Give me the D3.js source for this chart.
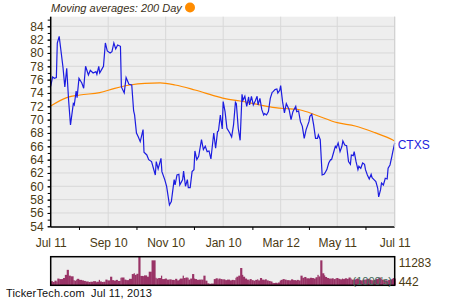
<!DOCTYPE html>
<html>
<head>
<meta charset="utf-8">
<script src="https://cdn.jsdelivr.net/npm/d3@7"></script>
<style>
  body { margin: 0; background: #fff; }
  svg { display: block; font-family: "Liberation Sans", Arial, sans-serif; }
</style>
</head>
<body>
<div id="chart"></div>
<script>
// price series: day offsets from Jul 11 2012, closing price
const days = [
  0,2,4,6,7,9,13,15,17,19,
  21,24,25,27,28,30,33,35,37,40,
  42,45,48,49,51,52,54,56,58,60,
  63,65,67,69,71,74,75,78,80,83,
  86,88,89,91,93,95,98,99,102,104,
  107,111,112,114,117,118,121,123,126,128,
  131,132,134,136,137,140,141,143,145,146,
  148,150,152,153,155,157,160,162,164,166,
  168,170,173,175,177,178,180,182,183,185,
  187,190,192,194,196,197,199,201,203,204,
  206,208,210,211,213,215,217,219,220,222,
  224,226,227,229,231,233,235,236,238,240,
  241,243,244,246,248,250,253,255,257,260,
  261,263,265,267,269,271,274,275,277,279,
  281,283,284,286,288,290,291,293,295,297,
  298,300,302,303,305,307,309,310,312,314,
  316,318,319,321,322,324,326,327,329,331,
  333,334,336,338,340,341,343,345,347,348,
  350,351,353,355,357,358,360,362,363,365
];
const price = [
  75.0,76.4,76.2,76.3,81.5,82.5,77.9,74.9,77.7,72.9,
  69.2,72.4,72.2,74.3,73.3,76.2,75.5,74.7,78.0,76.7,
  77.4,77.0,77.2,76.8,78.0,77.0,77.5,78.0,81.5,80.3,
  80.0,80.2,81.5,80.6,81.2,81.0,74.9,74.0,76.3,75.3,
  75.2,71.3,70.7,68.0,67.4,66.7,68.5,65.1,64.7,64.0,
  63.7,61.7,63.7,62.6,64.2,62.2,61.0,60.0,57.2,57.7,
  61.0,60.2,61.7,61.8,60.2,61.0,62.3,60.0,61.0,59.8,
  59.8,62.2,62.5,65.3,64.0,64.5,67.0,65.5,66.0,65.2,
  65.3,64.1,68.0,65.7,68.2,68.3,70.7,68.6,72.7,71.2,
  68.7,68.0,67.4,69.2,72.6,72.4,68.7,66.9,73.8,72.9,
  73.5,72.0,73.4,72.2,73.5,72.2,72.8,73.5,72.2,73.2,
  71.5,70.7,70.9,70.7,71.2,73.2,74.1,74.2,74.5,74.6,
  74.0,74.4,75.1,72.7,71.0,72.4,71.5,70.0,71.2,72.0,
  71.2,71.3,69.7,69.0,67.2,68.5,69.7,70.5,70.8,69.2,
  67.2,67.2,67.7,67.0,61.7,61.8,62.0,62.5,63.5,64.0,
  64.0,65.0,66.0,65.8,66.5,65.2,66.0,66.8,66.2,66.1,
  63.7,63.3,64.7,64.6,65.2,63.7,62.5,63.0,62.7,63.5,
  63.3,62.5,61.7,61.1,61.8,61.3,61.0,60.7,59.7,58.4,
  59.5,60.5,60.2,61.2,61.1,62.7,63.2,64.5,65.2,66.5
];
// volume in 1000's, same days
const volume = [
  2000,1700,2200,1800,3000,2800,3200,4400,6300,4100,
  3850,2400,2200,2600,2900,2500,2300,2100,1900,1700,
  1800,2000,1600,1800,2500,1900,1700,1800,2600,2300,
  3700,2400,2200,2500,2100,3300,3400,2600,2400,2900,
  4700,5000,4400,4800,11283,4000,3900,4200,3700,5600,
  9900,3300,3000,3200,4100,2800,3000,2600,2700,2500,
  2400,2900,2300,2600,3000,4100,3200,3400,3300,2600,
  3000,4700,3000,2800,2500,2600,2600,4100,2200,1200,
  1000,1100,2800,3100,2600,3000,2800,2600,2700,2400,
  2600,2300,2500,2400,3300,3700,4100,7000,4400,3700,
  3000,2600,2300,2800,2400,2200,2500,2700,2300,3200,
  2600,2400,2700,2300,2100,1900,1400,1300,1400,1200,
  1500,2200,2500,2800,2600,2400,2300,2700,2400,2200,
  2500,2300,4100,3300,3600,3100,3000,3300,3200,3000,
  3500,4400,3800,9900,5000,4200,3600,3200,3000,2900,
  3100,2800,3000,3200,2900,2700,3000,2800,3100,2900,
  3400,3000,2600,2500,2700,2900,2800,2400,2300,2600,
  2500,2700,2900,2600,2400,2300,2500,2800,3000,3400,
  2900,2600,2400,2300,2100,2500,2700,2900,3200,3000
];
// 200 day moving average
const maDays = [0,17,31,52,68,84,100,116,132,153,177,185,201,222,238,254,265,281,304,323,344,363,365];
const ma = [72.05,73.3,73.7,74.05,74.7,75.2,75.45,75.5,75.2,74.45,73.45,73.15,72.8,72.2,71.8,71.6,71.45,70.7,69.55,69.05,68.05,66.95,66.8];

const xLabelDays = [0, 61, 122, 183, 244, 304, 365];
const xLabels = ["Jul 11", "Sep 10", "Nov 10", "Jan 10", "Mar 12", "May 11", "Jul 11"];
const xMinorDays = [30, 91, 152, 214, 274, 334];
const yLabels = [54,56,58,60,62,64,66,68,70,72,74,76,78,80,82,84];
const volLabels = [442, 11283];

const start = new Date(2012, 6, 11);
const toDate = d => d3.timeDay.offset(start, d);

const svg = d3.select("#chart").append("svg")
    .attr("width", 450)
    .attr("height", 300);

const pLeft = 50.7, pRight = 394.7, pTop = 16.7, pBottom = 227;
const textCol = "#4a3a12";

const x = d3.scaleTime()
    .domain([start, toDate(365)])
    .range([pLeft, pRight]);
const y = d3.scaleLinear()
    .domain([54, 84])
    .range([226.3, 26.3]);

// plot background
svg.append("rect")
    .attr("x", pLeft).attr("y", pTop)
    .attr("width", pRight - pLeft).attr("height", pBottom - pTop)
    .attr("fill", "#eeeeee");

// grid
svg.append("g").selectAll("line")
  .data(yLabels.slice(1))
  .join("line")
    .attr("x1", pLeft).attr("x2", pRight)
    .attr("y1", d => y(d)).attr("y2", d => y(d))
    .attr("stroke", "#d8d8d8");
svg.append("g").selectAll("line")
  .data(xLabelDays)
  .join("line")
    .attr("x1", d => x(toDate(d))).attr("x2", d => x(toDate(d)))
    .attr("y1", pTop).attr("y2", pBottom)
    .attr("stroke", "#d8d8d8");

// moving average
svg.append("path")
    .datum(maDays.map((d, i) => [toDate(d), ma[i]]))
    .attr("fill", "none")
    .attr("stroke", "#ff8c00")
    .attr("stroke-width", 1.2)
    .attr("d", d3.line().x(d => x(d[0])).y(d => y(d[1])).curve(d3.curveMonotoneX));

// price line
svg.append("path")
    .datum(days.map((d, i) => [toDate(d), price[i]]))
    .attr("fill", "none")
    .attr("stroke", "#1c1ce0")
    .attr("stroke-width", 1.2)
    .attr("d", d3.line().x(d => x(d[0])).y(d => y(d[1])));

// Y axis
const yMinor = d3.range(54, 86);
svg.append("g")
    .attr("transform", `translate(${pLeft},0)`)
    .call(d3.axisLeft(y).tickValues(yMinor).tickSize(3).tickFormat(""))
    .call(g => g.select(".domain").remove())
    .call(g => g.selectAll("line").attr("stroke", "#000"));
svg.append("g")
    .attr("transform", `translate(${pLeft},0)`)
    .call(d3.axisLeft(y).tickValues(yLabels).tickSize(3).tickPadding(4))
    .call(g => g.select(".domain").remove())
    .call(g => g.selectAll("line").attr("stroke", "#000"))
    .call(g => g.selectAll("text").attr("fill", textCol).style("font-size", "12px"));
svg.append("line")
    .attr("x1", pLeft).attr("x2", pLeft).attr("y1", pTop).attr("y2", pBottom)
    .attr("stroke", "#000").attr("stroke-width", 1.5);

// X axis
svg.append("g")
    .attr("transform", `translate(0,${pBottom})`)
    .call(d3.axisBottom(x).tickValues(xMinorDays.map(toDate)).tickSize(3).tickFormat(""))
    .call(g => g.select(".domain").remove())
    .call(g => g.selectAll("line").attr("stroke", "#000"));
svg.append("g")
    .attr("transform", `translate(0,${pBottom})`)
    .call(d3.axisBottom(x).tickValues(xLabelDays.map(toDate)).tickSize(0).tickPadding(11)
      .tickFormat((d, i) => xLabels[i]))
    .call(g => g.select(".domain").remove())
    .call(g => g.selectAll("text").attr("fill", textCol).style("font-size", "12px"));
svg.append("line")
    .attr("x1", pLeft).attr("x2", pRight).attr("y1", pBottom).attr("y2", pBottom)
    .attr("stroke", "#000").attr("stroke-width", 1.5);

// right edge of plot
svg.append("line")
    .attr("x1", pRight).attr("x2", pRight).attr("y1", pTop).attr("y2", pBottom)
    .attr("stroke", "#cfcfcf");

// series label
svg.append("text")
    .attr("x", pRight + 3)
    .attr("y", y(price[price.length - 1]) + 6)
    .attr("fill", "#2222dd")
    .style("font-size", "12px")
    .text("CTXS");

// title / legend
svg.append("text")
    .attr("x", 51).attr("y", 12)
    .attr("fill", "#3a3020")
    .style("font-size", "11px")
    .style("font-style", "italic")
    .text("Moving averages: 200 Day");
svg.append("circle")
    .attr("cx", 190).attr("cy", 7.5).attr("r", 5)
    .attr("fill", "#ff8c00");

// volume panel
const vTop = 256.7, vBottom = 285.3;
const yv = d3.scaleLinear()
    .domain([442, 11283])
    .range([vBottom, vTop]);

svg.append("rect")
    .attr("x", pLeft).attr("y", vTop)
    .attr("width", pRight - pLeft).attr("height", vBottom - vTop)
    .attr("fill", "#eeeeee");

svg.append("g").selectAll("rect")
  .data(volume)
  .join("rect")
    .attr("x", (d, i) => x(toDate(days[i])))
    .attr("y", d => yv(d))
    .attr("width", (d, i) => i < days.length - 1 ? x(toDate(days[i + 1])) - x(toDate(days[i])) + 0.3 : 1)
    .attr("height", d => vBottom - yv(d))
    .attr("fill", "#993366");

svg.append("rect")
    .attr("x", pLeft).attr("y", vTop)
    .attr("width", pRight - pLeft).attr("height", vBottom - vTop)
    .attr("fill", "none")
    .attr("stroke", "#000")
    .attr("stroke-width", 1.5);

svg.append("g").selectAll("text")
  .data(volLabels)
  .join("text")
    .attr("x", pRight + 4)
    .attr("y", d => d === 11283 ? yv(d) + 10 : yv(d) + 1)
    .attr("fill", textCol)
    .style("font-size", "12px")
    .text(d => d);

svg.append("text")
    .attr("x", 392).attr("y", 284.5)
    .attr("text-anchor", "end")
    .attr("fill", "#3f6b5a")
    .style("font-size", "11px")
    .text("(1000's)");

// footer
svg.append("text")
    .attr("x", 6).attr("y", 297)
    .attr("fill", "#111")
    .style("font-size", "11px")
    .style("letter-spacing", "0.15px")
    .style("white-space", "pre")
    .text("TickerTech.com  Jul 11, 2013");
</script>
</body>
</html>
